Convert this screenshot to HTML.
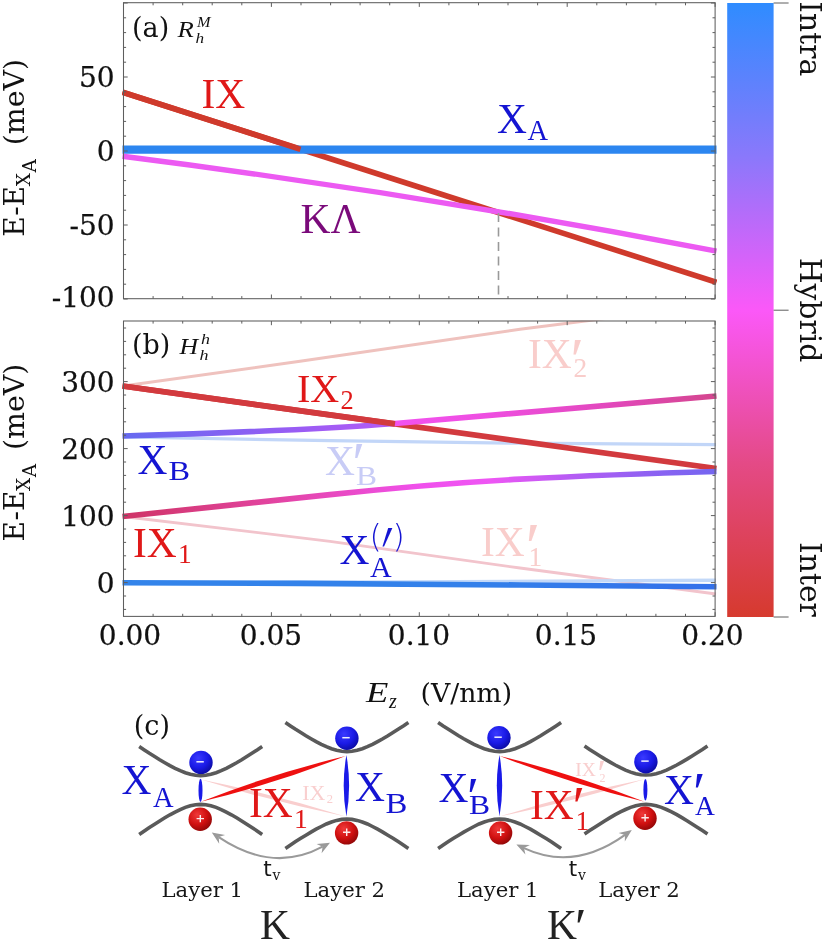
<!DOCTYPE html><html><head><meta charset="utf-8"><title>Figure</title><style>html,body{margin:0;padding:0;background:#fff}svg{display:block}</style></head><body><svg width="825" height="942" viewBox="0 0 825 942">
<defs>
<linearGradient id="cb" x1="0" y1="0" x2="0" y2="1">
<stop offset="0" stop-color="#2f8cff"/>
<stop offset="0.25" stop-color="#8a78fb"/>
<stop offset="0.5" stop-color="#fb58f8"/>
<stop offset="0.75" stop-color="#e44a86"/>
<stop offset="1" stop-color="#d63a2e"/>
</linearGradient>
<linearGradient id="gU" gradientUnits="userSpaceOnUse" x1="123" y1="0" x2="716" y2="0">
<stop offset="0" stop-color="#666af0"/>
<stop offset="0.30" stop-color="#9a5cf4"/>
<stop offset="0.455" stop-color="#b45cf4"/>
<stop offset="0.46" stop-color="#f252f0"/>
<stop offset="0.62" stop-color="#ee4ee0"/>
<stop offset="0.82" stop-color="#e248bc"/>
<stop offset="1" stop-color="#d4468e"/>
</linearGradient>
<linearGradient id="gL" gradientUnits="userSpaceOnUse" x1="123" y1="0" x2="716" y2="0">
<stop offset="0" stop-color="#cf3466"/>
<stop offset="0.25" stop-color="#e244a0"/>
<stop offset="0.5" stop-color="#f050ec"/>
<stop offset="0.62" stop-color="#ee56f4"/>
<stop offset="0.76" stop-color="#b45cf4"/>
<stop offset="0.9" stop-color="#8a62f2"/>
<stop offset="1" stop-color="#7466f0"/>
</linearGradient>
<linearGradient id="gA" gradientUnits="userSpaceOnUse" x1="123" y1="0" x2="716" y2="0">
<stop offset="0" stop-color="#3384ea"/>
<stop offset="0.6" stop-color="#3380ea"/>
<stop offset="1" stop-color="#3370ea"/>
</linearGradient>
<radialGradient id="sb" cx="0.38" cy="0.32" r="0.75">
<stop offset="0" stop-color="#3a3aff"/>
<stop offset="0.55" stop-color="#1a1ae6"/>
<stop offset="1" stop-color="#0a0a9a"/>
</radialGradient>
<radialGradient id="sr" cx="0.38" cy="0.32" r="0.75">
<stop offset="0" stop-color="#f03a3a"/>
<stop offset="0.55" stop-color="#d01010"/>
<stop offset="1" stop-color="#8a0606"/>
</radialGradient>
<clipPath id="ca"><rect x="122" y="2" width="595" height="297.5"/></clipPath>
<clipPath id="cbp"><rect x="122" y="320.5" width="595" height="296"/></clipPath>
</defs>
<rect width="825" height="942" fill="#fff"/>
<g clip-path="url(#ca)" fill="none" stroke-linecap="butt">
<line x1="122.5" y1="92.2" x2="716.5" y2="282.3" stroke="#cf3a2c" stroke-width="5.6"/>
<line x1="122.5" y1="149.6" x2="716.5" y2="149.6" stroke="#2c86f0" stroke-width="8.2"/>
<line x1="122.5" y1="92.2" x2="300.5" y2="149.3" stroke="#cf3a2c" stroke-width="5.6"/>
<path d="M122.5 156.3 Q419.5 193.8 716.5 251.2" stroke="#ec5af2" stroke-width="5.4"/>
<line x1="498.5" y1="213" x2="498.5" y2="299" stroke="#999" stroke-width="1.6" stroke-dasharray="9 5.5"/>
</g>
<g clip-path="url(#cbp)" fill="none" stroke-linecap="butt">
<path d="M123 386 L300 361.3 L520 329.3 L605 318.5" stroke="#efc2be" stroke-width="3"/>
<path d="M123 437 L330 440.6 L520 443.2 L716 444.6" stroke="#c2d6f8" stroke-width="3.2"/>
<path d="M123 516.5 L330 541.3 L520 568 L716 594" stroke="#f2c4cc" stroke-width="2.8"/>
<path d="M123 582.4 L400 582 L716 580.2" stroke="#c2d8f8" stroke-width="3.4"/>
<path d="M122.5 386 L716.5 468.5" stroke="#d23a3e" stroke-width="5.7"/>
<path d="M122.5 436 Q300 431 395 423.5 T716.5 396" stroke="url(#gU)" stroke-width="5.7"/>
<path d="M122.5 386 L395 423.9" stroke="#d23a3e" stroke-width="5.7"/>
<path d="M122.5 516.5 L330 494.7 Q430 484 520 479.2 T716.5 471.5" stroke="url(#gL)" stroke-width="5.7"/>
<path d="M122.5 582.8 L300 583.4 L520 585 L716.5 586.8" stroke="url(#gA)" stroke-width="5.6"/>
</g>
<rect x="123.5" y="2.7" width="591.6" height="296.0" fill="none" stroke="#5e5e5e" stroke-width="1.05"/>
<rect x="123.5" y="321.0" width="591.6" height="295.4" fill="none" stroke="#5e5e5e" stroke-width="1.05"/>
<path d="M123.5 298.7v-4.2M123.5 2.7v4.2M153.1 298.7v-2.6M153.1 2.7v2.6M182.7 298.7v-2.6M182.7 2.7v2.6M212.2 298.7v-2.6M212.2 2.7v2.6M241.8 298.7v-2.6M241.8 2.7v2.6M271.4 298.7v-4.2M271.4 2.7v4.2M301.0 298.7v-2.6M301.0 2.7v2.6M330.6 298.7v-2.6M330.6 2.7v2.6M360.1 298.7v-2.6M360.1 2.7v2.6M389.7 298.7v-2.6M389.7 2.7v2.6M419.3 298.7v-4.2M419.3 2.7v4.2M448.9 298.7v-2.6M448.9 2.7v2.6M478.5 298.7v-2.6M478.5 2.7v2.6M508.0 298.7v-2.6M508.0 2.7v2.6M537.6 298.7v-2.6M537.6 2.7v2.6M567.2 298.7v-4.2M567.2 2.7v4.2M596.8 298.7v-2.6M596.8 2.7v2.6M626.4 298.7v-2.6M626.4 2.7v2.6M655.9 298.7v-2.6M655.9 2.7v2.6M685.5 298.7v-2.6M685.5 2.7v2.6M715.1 298.7v-4.2M715.1 2.7v4.2M123.5 616.4v-4.2M123.5 321.0v4.2M153.1 616.4v-2.6M153.1 321.0v2.6M182.7 616.4v-2.6M182.7 321.0v2.6M212.2 616.4v-2.6M212.2 321.0v2.6M241.8 616.4v-2.6M241.8 321.0v2.6M271.4 616.4v-4.2M271.4 321.0v4.2M301.0 616.4v-2.6M301.0 321.0v2.6M330.6 616.4v-2.6M330.6 321.0v2.6M360.1 616.4v-2.6M360.1 321.0v2.6M389.7 616.4v-2.6M389.7 321.0v2.6M419.3 616.4v-4.2M419.3 321.0v4.2M448.9 616.4v-2.6M448.9 321.0v2.6M478.5 616.4v-2.6M478.5 321.0v2.6M508.0 616.4v-2.6M508.0 321.0v2.6M537.6 616.4v-2.6M537.6 321.0v2.6M567.2 616.4v-4.2M567.2 321.0v4.2M596.8 616.4v-2.6M596.8 321.0v2.6M626.4 616.4v-2.6M626.4 321.0v2.6M655.9 616.4v-2.6M655.9 321.0v2.6M685.5 616.4v-2.6M685.5 321.0v2.6M715.1 616.4v-4.2M715.1 321.0v4.2M123.5 299.0h4.2M715.1 299.0h-4.2M123.5 284.2h2.6M715.1 284.2h-2.6M123.5 269.4h2.6M715.1 269.4h-2.6M123.5 254.6h2.6M715.1 254.6h-2.6M123.5 239.8h2.6M715.1 239.8h-2.6M123.5 225.0h4.2M715.1 225.0h-4.2M123.5 210.2h2.6M715.1 210.2h-2.6M123.5 195.4h2.6M715.1 195.4h-2.6M123.5 180.6h2.6M715.1 180.6h-2.6M123.5 165.8h2.6M715.1 165.8h-2.6M123.5 151.0h4.2M715.1 151.0h-4.2M123.5 136.2h2.6M715.1 136.2h-2.6M123.5 121.4h2.6M715.1 121.4h-2.6M123.5 106.6h2.6M715.1 106.6h-2.6M123.5 91.8h2.6M715.1 91.8h-2.6M123.5 77.0h4.2M715.1 77.0h-4.2M123.5 62.2h2.6M715.1 62.2h-2.6M123.5 47.4h2.6M715.1 47.4h-2.6M123.5 32.6h2.6M715.1 32.6h-2.6M123.5 17.8h2.6M715.1 17.8h-2.6M123.5 3.0h4.2M715.1 3.0h-4.2M123.5 609.4h2.6M715.1 609.4h-2.6M123.5 596.0h2.6M715.1 596.0h-2.6M123.5 582.6h4.2M715.1 582.6h-4.2M123.5 569.2h2.6M715.1 569.2h-2.6M123.5 555.8h2.6M715.1 555.8h-2.6M123.5 542.4h2.6M715.1 542.4h-2.6M123.5 529.0h2.6M715.1 529.0h-2.6M123.5 515.6h4.2M715.1 515.6h-4.2M123.5 502.2h2.6M715.1 502.2h-2.6M123.5 488.8h2.6M715.1 488.8h-2.6M123.5 475.4h2.6M715.1 475.4h-2.6M123.5 462.0h2.6M715.1 462.0h-2.6M123.5 448.6h4.2M715.1 448.6h-4.2M123.5 435.2h2.6M715.1 435.2h-2.6M123.5 421.8h2.6M715.1 421.8h-2.6M123.5 408.4h2.6M715.1 408.4h-2.6M123.5 395.0h2.6M715.1 395.0h-2.6M123.5 381.6h4.2M715.1 381.6h-4.2M123.5 368.2h2.6M715.1 368.2h-2.6M123.5 354.8h2.6M715.1 354.8h-2.6M123.5 341.4h2.6M715.1 341.4h-2.6M123.5 328.0h2.6M715.1 328.0h-2.6" stroke="#5e5e5e" stroke-width="1" fill="none"/>
<g font-family='"DejaVu Serif","Liberation Serif",serif' font-size="28" fill="#111" stroke="#111" stroke-width="0.25">
<text x="114.6" y="86.8" text-anchor="end">50</text>
<text x="114.6" y="160.8" text-anchor="end">0</text>
<text x="114.6" y="234.8" text-anchor="end">-50</text>
<text x="114.6" y="306.8" text-anchor="end">-100</text>
<text x="114.6" y="392.0" text-anchor="end">300</text>
<text x="114.6" y="459.0" text-anchor="end">200</text>
<text x="114.6" y="526.0" text-anchor="end">100</text>
<text x="114.6" y="593.0" text-anchor="end">0</text>
<text x="130" y="645.3" text-anchor="middle">0.00</text>
<text x="271" y="645.3" text-anchor="middle">0.05</text>
<text x="419" y="645.3" text-anchor="middle">0.10</text>
<text x="566" y="645.3" text-anchor="middle">0.15</text>
<text x="712.5" y="645.3" text-anchor="middle">0.20</text>
</g>
<g transform="translate(23.6 236.8) rotate(-90)" font-family='"DejaVu Serif","Liberation Serif",serif' fill="#111"><text x="0" y="0" font-size="28">E-E</text><text x="50.5" y="6" font-size="18.5">X</text><text x="64.3" y="12" font-size="18.5">A</text><text x="91.5" y="0" font-size="28.4">(meV)</text></g>
<g transform="translate(23.6 541.5) rotate(-90)" font-family='"DejaVu Serif","Liberation Serif",serif' fill="#111"><text x="0" y="0" font-size="28">E-E</text><text x="50.5" y="6" font-size="18.5">X</text><text x="64.3" y="12" font-size="18.5">A</text><text x="91.5" y="0" font-size="28.4">(meV)</text></g>
<rect x="727.2" y="3" width="46.4" height="614" fill="url(#cb)"/>
<path d="M773.6 3h15M773.6 310.2h15M773.6 617h15" stroke="#5e5e5e" stroke-width="1"/>
<g font-family='"DejaVu Serif","Liberation Serif",serif' font-size="29.8" fill="#111">
<text transform="translate(800 1.2) rotate(90)">Intra</text>
<text transform="translate(800 310) rotate(90)" text-anchor="middle">Hybrid</text>
<text transform="translate(800 616.8) rotate(90)" text-anchor="end">Inter</text>
</g>
<g font-family='"DejaVu Serif","Liberation Serif",serif' font-size="27" fill="#111">
<text x="132" y="36.8">(a)</text>
<text x="132" y="354">(b)</text>
<text x="133.8" y="734.8" font-size="27">(c)</text>
</g>
<g font-family='"Liberation Serif","DejaVu Serif",serif' font-style="italic" fill="#111">
<text transform="translate(177.5 36.6) scale(1.16 1)" font-size="23">R</text><text transform="translate(195.5 42.8) scale(1.15 1)" font-size="15">h</text><text transform="translate(197 27) scale(1.12 1)" font-size="14.5">M</text>
<text transform="translate(179.5 354) scale(1.12 1)" font-size="23">H</text><text transform="translate(199.5 360.2) scale(1.2 1)" font-size="15">h</text><text transform="translate(201 344) scale(1.2 1)" font-size="15">h</text>
</g>
<g font-family='"Liberation Serif","DejaVu Serif",serif' fill="#e01818"><text x="201.5" y="108" font-size="41.5">IX</text></g>
<g font-family='"Liberation Serif","DejaVu Serif",serif' fill="#7a0a7a"><text x="300.5" y="232.7" font-size="41.5">KΛ</text></g>
<g font-family='"Liberation Serif","DejaVu Serif",serif' fill="#1414d2"><text x="497" y="133" font-size="41.5">X</text><text transform="translate(527.5 139.5) scale(1.0 1)" font-size="28.5">A</text></g>
<g font-family='"Liberation Serif","DejaVu Serif",serif' fill="#e01818"><text x="297" y="401.5" font-size="40">IX</text><text transform="translate(340.5 408.5) scale(1.0 1)" font-size="26.400000000000002">2</text></g>
<g font-family='"Liberation Serif","DejaVu Serif",serif' fill="#1414d2"><text x="137.5" y="473.5" font-size="41.5">X</text><text transform="translate(168.5 480.0) scale(1.18 1)" font-size="27.39">B</text></g>
<g font-family='"Liberation Serif","DejaVu Serif",serif' fill="#c8ccf6"><text x="325" y="474.5" font-size="41.5">X</text><text transform="translate(356 484.5) scale(1.15 1)" font-size="27.39">B</text></g>
<text transform="translate(352.2 482.9) skewX(0) scale(1.0 1)" font-family='"Liberation Serif","DejaVu Serif",serif' font-size="59.1" fill="#c8ccf6">′</text>
<g font-family='"Liberation Serif","DejaVu Serif",serif' fill="#e01818"><text x="133" y="556.5" font-size="41.5">IX</text><text transform="translate(178 563.0) scale(1.0 1)" font-size="27.39">1</text></g>
<g font-family='"Liberation Serif","DejaVu Serif",serif' fill="#1414d2"><text x="339.5" y="564" font-size="41.5">X</text><text transform="translate(370.0 576.5) scale(1.0 1)" font-size="30">A</text></g>
<g fill="#1414d2" font-family='"DejaVu Sans","Liberation Sans",sans-serif'><text x="369.5" y="546.5" font-size="31.5" font-weight="200">(</text><text x="392.6" y="546.5" font-size="31.5" font-weight="200">)</text></g>
<text transform="translate(371.9 580.1) skewX(-14) scale(0.55 1)" font-family='"Liberation Serif","DejaVu Serif",serif' font-size="79.5" fill="#1414d2">′</text>
<g font-family='"Liberation Serif","DejaVu Serif",serif' fill="#f9cdcb"><text x="528" y="368" font-size="41.5">IX</text><text transform="translate(573.5 377) scale(1.0 1)" font-size="27.39">2</text></g>
<text transform="translate(570.4 379.9) skewX(0) scale(1.0 1)" font-family='"Liberation Serif","DejaVu Serif",serif' font-size="61.4" fill="#f9cdcb">′</text>
<g font-family='"Liberation Serif","DejaVu Serif",serif' fill="#f9cdcb"><text x="481" y="555.6" font-size="41.5">IX</text><text transform="translate(528.5 565.6) scale(1.0 1)" font-size="27.39">1</text></g>
<text transform="translate(525.4 568.8) skewX(0) scale(1.0 1)" font-family='"Liberation Serif","DejaVu Serif",serif' font-size="68.2" fill="#f9cdcb">′</text>
<text transform="translate(366 701.7) scale(1.22 1)" font-family='"Liberation Serif","DejaVu Serif",serif' font-style="italic" font-size="30" fill="#111">E</text>
<text x="389" y="707.5" font-family='"Liberation Serif","DejaVu Serif",serif' font-style="italic" font-size="20" fill="#111">z</text>
<text x="420.5" y="701.7" font-family='"DejaVu Serif","Liberation Serif",serif' font-size="26.7" fill="#111">(V/nm)</text>
<path d="M201.0 779.5 Q272.3 801.6 345.5 816.4 Q274.2 794.3 201.0 779.5Z" fill="#f9cece" opacity="1"/>
<path d="M500.0 816.4 Q573.2 801.5 644.5 779.3 Q571.3 794.2 500.0 816.4Z" fill="#f9cece" opacity="1"/>
<g fill="none" stroke="#5a5a5a" stroke-width="3.6" stroke-linecap="butt">
<path d="M139.2 746.6 L144.3 750.0 L149.4 753.3 L154.6 756.5 L159.7 759.7 L164.8 762.7 L169.9 765.6 L175.1 768.3 L180.2 770.7 L185.3 772.7 L190.4 774.3 L195.6 775.3 L200.7 775.6 L205.8 775.3 L210.9 774.3 L216.1 772.7 L221.2 770.7 L226.3 768.3 L231.4 765.6 L236.6 762.7 L241.7 759.7 L246.8 756.5 L251.9 753.3 L257.1 750.0 L262.2 746.6"/>
<path d="M139.2 834.4 L144.3 830.9 L149.4 827.5 L154.6 824.2 L159.7 820.9 L164.8 817.8 L169.9 814.8 L175.1 812.1 L180.2 809.6 L185.3 807.4 L190.4 805.8 L195.6 804.8 L200.7 804.4 L205.8 804.8 L210.9 805.8 L216.1 807.4 L221.2 809.6 L226.3 812.1 L231.4 814.8 L236.6 817.8 L241.7 820.9 L246.8 824.2 L251.9 827.5 L257.1 830.9 L262.2 834.4"/>
<path d="M285.4 722.6 L290.5 726.0 L295.6 729.3 L300.8 732.5 L305.9 735.7 L311.0 738.7 L316.1 741.6 L321.3 744.3 L326.4 746.7 L331.5 748.7 L336.6 750.3 L341.8 751.3 L346.9 751.6 L352.0 751.3 L357.1 750.3 L362.3 748.7 L367.4 746.7 L372.5 744.3 L377.6 741.6 L382.8 738.7 L387.9 735.7 L393.0 732.5 L398.1 729.3 L403.3 726.0 L408.4 722.6"/>
<path d="M285.4 848.4 L290.5 845.0 L295.6 841.6 L300.8 838.3 L305.9 835.2 L311.0 832.1 L316.1 829.2 L321.3 826.5 L326.4 824.0 L331.5 822.0 L336.6 820.4 L341.8 819.4 L346.9 819.0 L352.0 819.4 L357.1 820.4 L362.3 822.0 L367.4 824.0 L372.5 826.5 L377.6 829.2 L382.8 832.1 L387.9 835.2 L393.0 838.3 L398.1 841.6 L403.3 845.0 L408.4 848.4"/>
<path d="M438.1 722.6 L443.2 726.0 L448.4 729.3 L453.5 732.5 L458.6 735.7 L463.7 738.7 L468.9 741.6 L474.0 744.3 L479.1 746.7 L484.2 748.7 L489.4 750.3 L494.5 751.3 L499.6 751.6 L504.7 751.3 L509.9 750.3 L515.0 748.7 L520.1 746.7 L525.2 744.3 L530.4 741.6 L535.5 738.7 L540.6 735.7 L545.7 732.5 L550.9 729.3 L556.0 726.0 L561.1 722.6"/>
<path d="M438.1 848.4 L443.2 845.0 L448.4 841.6 L453.5 838.3 L458.6 835.2 L463.7 832.1 L468.9 829.2 L474.0 826.5 L479.1 824.0 L484.2 822.0 L489.4 820.4 L494.5 819.4 L499.6 819.0 L504.7 819.4 L509.9 820.4 L515.0 822.0 L520.1 824.0 L525.2 826.5 L530.4 829.2 L535.5 832.1 L540.6 835.2 L545.7 838.3 L550.9 841.6 L556.0 845.0 L561.1 848.4"/>
<path d="M584.5 746.0 L589.6 749.4 L594.8 752.7 L599.9 755.9 L605.0 759.1 L610.1 762.1 L615.2 765.0 L620.4 767.7 L625.5 770.1 L630.6 772.1 L635.8 773.7 L640.9 774.7 L646.0 775.0 L651.1 774.7 L656.2 773.7 L661.4 772.1 L666.5 770.1 L671.6 767.7 L676.8 765.0 L681.9 762.1 L687.0 759.1 L692.1 755.9 L697.2 752.7 L702.4 749.4 L707.5 746.0"/>
<path d="M584.5 834.0 L589.6 830.6 L594.8 827.2 L599.9 823.9 L605.0 820.7 L610.1 817.6 L615.2 814.6 L620.4 811.9 L625.5 809.5 L630.6 807.4 L635.8 805.8 L640.9 804.8 L646.0 804.4 L651.1 804.8 L656.2 805.8 L661.4 807.4 L666.5 809.5 L671.6 811.9 L676.8 814.6 L681.9 817.6 L687.0 820.7 L692.1 823.9 L697.2 827.2 L702.4 830.6 L707.5 834.0"/>
</g>
<g font-family='"Liberation Serif","DejaVu Serif",serif' fill="#f9cfcf"><text x="302.3" y="799.5" font-size="22">IX</text><text x="326.8" y="803.4" font-size="12.5">2</text><text x="575.3" y="776.3" font-size="19.5">IX</text><text x="599.5" y="782" font-size="12">2</text></g>
<text transform="translate(597.6 785.6) skewX(0) scale(1.0 1)" font-family='"Liberation Serif","DejaVu Serif",serif' font-size="38.6" fill="#f9cfcf">′</text>
<path d="M200.8 801.8 Q274.8 784.0 345.6 756.0 Q271.6 773.8 200.8 801.8Z" fill="#ee1010" opacity="1"/>
<path d="M499.8 756.0 Q570.7 783.7 644.6 801.8 Q573.7 774.1 499.8 756.0Z" fill="#ee1010" opacity="1"/>
<ellipse cx="200.5" cy="790.4" rx="2.0" ry="11.6" fill="#1a1ae8"/>
<path d="M346.4 755.0 Q341.0 785.8 346.4 816.6 Q351.8 785.8 346.4 755.0Z" fill="#1a1ae8" opacity="1"/>
<path d="M499.5 755.0 Q494.1 785.8 499.5 816.6 Q504.9 785.8 499.5 755.0Z" fill="#1a1ae8" opacity="1"/>
<ellipse cx="645.4" cy="789.7" rx="2.0" ry="10.8" fill="#1a1ae8"/>
<circle cx="201.0" cy="762.4" r="11.7" fill="url(#sb)"/>
<path d="M196.4 761.8h7.4" stroke="#fff" stroke-width="1.5" opacity="0.92"/>
<circle cx="200.2" cy="819.2" r="11.7" fill="url(#sr)"/>
<path d="M196.6 818.6h7.4M200.29999999999998 814.9000000000001v7.4" stroke="#fff" stroke-width="1.4" opacity="0.92"/>
<circle cx="346.9" cy="738.3" r="11.7" fill="url(#sb)"/>
<path d="M342.29999999999995 737.6999999999999h7.4" stroke="#fff" stroke-width="1.5" opacity="0.92"/>
<circle cx="346.6" cy="832.9" r="11.7" fill="url(#sr)"/>
<path d="M343.0 832.3h7.4M346.70000000000005 828.6v7.4" stroke="#fff" stroke-width="1.4" opacity="0.92"/>
<circle cx="499.0" cy="737.8" r="11.7" fill="url(#sb)"/>
<path d="M494.4 737.1999999999999h7.4" stroke="#fff" stroke-width="1.5" opacity="0.92"/>
<circle cx="500.6" cy="832.9" r="11.7" fill="url(#sr)"/>
<path d="M497.0 832.3h7.4M500.70000000000005 828.6v7.4" stroke="#fff" stroke-width="1.4" opacity="0.92"/>
<circle cx="645.9" cy="761.7" r="11.7" fill="url(#sb)"/>
<path d="M641.3 761.1h7.4" stroke="#fff" stroke-width="1.5" opacity="0.92"/>
<circle cx="645.0" cy="818.3" r="11.7" fill="url(#sr)"/>
<path d="M641.4 817.6999999999999h7.4M645.1 814.0v7.4" stroke="#fff" stroke-width="1.4" opacity="0.92"/>
<path d="M211.8 832.4 L219.2 843.7 L218.7 837.1 L225.1 835.0Z" fill="#9a9a9a"/>
<path d="M330.0 842.7 L316.6 844.0 L322.6 846.7 L321.6 853.2Z" fill="#9a9a9a"/>
<path d="M218.7 837.1 Q273 873.5 322.6 846.7" fill="none" stroke="#9a9a9a" stroke-width="2.1"/>
<path d="M516.4 844.5 L525.4 854.5 L524.0 848.1 L529.9 845.0Z" fill="#9a9a9a"/>
<path d="M631.8 830.0 L618.6 833.0 L625.0 834.9 L624.8 841.5Z" fill="#9a9a9a"/>
<path d="M524.0 848.1 Q574 871.5 625.0 834.9" fill="none" stroke="#9a9a9a" stroke-width="2.1"/>
<text x="263.3" y="876" font-family='"DejaVu Sans","Liberation Sans",sans-serif' font-size="21.5" fill="#161616">t</text>
<text x="272.5" y="879.5" font-family='"DejaVu Serif","Liberation Serif",serif' font-size="14" fill="#161616">v</text>
<text x="568.7" y="876.2" font-family='"DejaVu Sans","Liberation Sans",sans-serif' font-size="21.5" fill="#161616">t</text>
<text x="577.9000000000001" y="879.7" font-family='"DejaVu Serif","Liberation Serif",serif' font-size="14" fill="#161616">v</text>
<g font-family='"Liberation Serif","DejaVu Serif",serif' fill="#1414d2"><text x="121.5" y="794.3" font-size="41.5">X</text><text transform="translate(153.0 806.5) scale(1.0 1)" font-size="28.5">A</text></g>
<g font-family='"Liberation Serif","DejaVu Serif",serif' fill="#1414d2"><text x="355" y="801" font-size="41.5">X</text><text transform="translate(385.5 812.5) scale(1.15 1)" font-size="28.5">B</text></g>
<g font-family='"Liberation Serif","DejaVu Serif",serif' fill="#e01818"><text x="249" y="817" font-size="41.5">IX</text><text transform="translate(294 828) scale(1.0 1)" font-size="27.5">1</text></g>
<g font-family='"Liberation Serif","DejaVu Serif",serif' fill="#1414d2"><text x="438.5" y="802" font-size="41.5">X</text><text transform="translate(469.0 813.5) scale(1.15 1)" font-size="27.5">B</text></g>
<text transform="translate(466.9 815.0) skewX(0) scale(1.0 1)" font-family='"Liberation Serif","DejaVu Serif",serif' font-size="54.5" fill="#1414d2">′</text>
<g font-family='"Liberation Serif","DejaVu Serif",serif' fill="#e01818"><text x="530" y="818.5" font-size="41.5">IX</text><text transform="translate(575.5 830.0) scale(1.0 1)" font-size="27.5">1</text></g>
<text transform="translate(572.6 825.7) skewX(0) scale(1.0 1)" font-family='"Liberation Serif","DejaVu Serif",serif' font-size="57.7" fill="#e01818">′</text>
<g font-family='"Liberation Serif","DejaVu Serif",serif' fill="#1414d2"><text x="664" y="803.8" font-size="41.5">X</text><text transform="translate(695 814.8) scale(1.0 1)" font-size="27.5">A</text></g>
<text transform="translate(692.9 811.9) skewX(0) scale(1.0 1)" font-family='"Liberation Serif","DejaVu Serif",serif' font-size="57.3" fill="#1414d2">′</text>
<g font-family='"DejaVu Serif","Liberation Serif",serif' font-size="21.2" fill="#161616"><text x="161.5" y="896.5">Layer 1</text><text x="303.5" y="896.5">Layer 2</text><text x="457" y="896.5">Layer 1</text><text x="598.3" y="896.5">Layer 2</text></g>
<g font-family='"Liberation Serif","DejaVu Serif",serif' font-size="41.5" fill="#222"><text x="260" y="938.8">K</text><text x="547" y="938.8">K</text></g>
<text transform="translate(575.0 945.0) skewX(0) scale(1.0 1)" font-family='"Liberation Serif","DejaVu Serif",serif' font-size="52.3" fill="#222">′</text>
</svg></body></html>
